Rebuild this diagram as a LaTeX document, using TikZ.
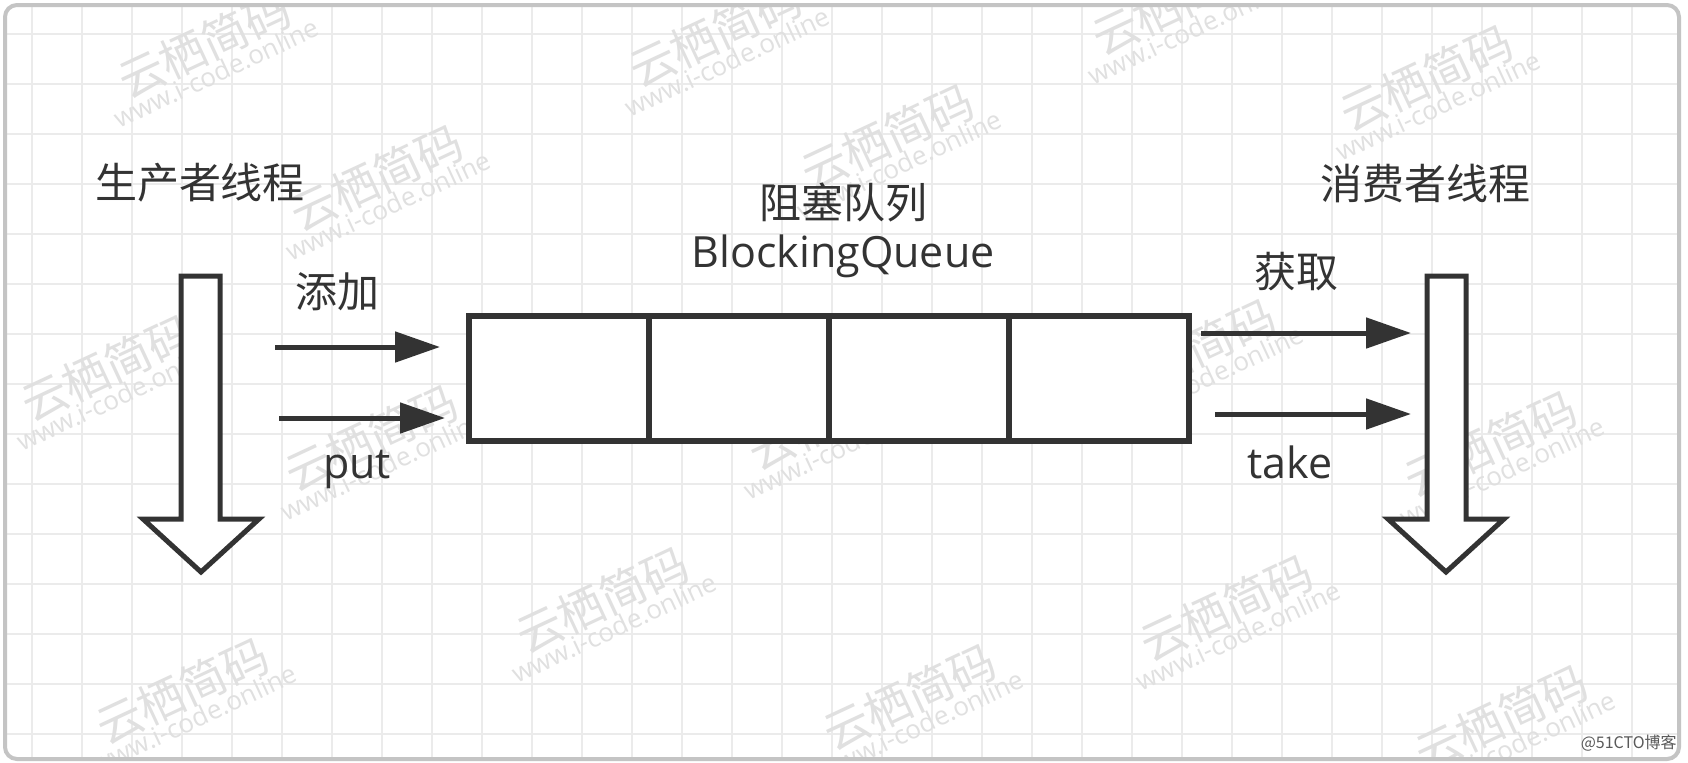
\documentclass[tikz,border=0pt]{standalone}
\usepackage{fontspec}
\setmainfont{Open Sans}
\newfontfamily\cjk{Noto Sans CJK SC}
\usetikzlibrary{arrows.meta}
\definecolor{ink}{HTML}{333333}
\definecolor{gridc}{HTML}{EBEBEB}
\definecolor{wmc}{HTML}{E0E0E0}
\definecolor{framec}{HTML}{C4C4C4}
\begin{document}
\begin{tikzpicture}[x=0.5pt,y=-0.5pt,
  cell/.style={draw=ink,line width=3pt,fill=white,minimum width=90pt,minimum height=62.5pt,inner sep=0pt},
  lbl/.style={text=ink,font=\cjk\fontsize{21}{25}\selectfont,inner sep=0pt},
  lat/.style={text=ink,font=\fontsize{21.5}{25}\selectfont,inner sep=0pt},
  push/.style={draw=ink,line width=2.5pt,-{Triangle[length=22.5pt,width=15pt]}},
  hollow/.style={draw=ink,line width=2.5pt,fill=white},
  wmcn/.style={text=wmc,rotate=25,inner sep=0pt,font=\cjk\fontsize{23}{26}\selectfont},
  wmen/.style={text=wmc,rotate=25,inner sep=0pt,font=\fontsize{13}{15}\selectfont},
  srcmark/.style={text=black!65,inner sep=0pt,font=\cjk\fontsize{8}{10}\selectfont}
]
\useasboundingbox (0,0) rectangle (1688,762);
\fill[white] (0,0) rectangle (1688,762);
\begin{scope}
  \clip[rounded corners=6pt] (5,5) rectangle (1679,759);
  \foreach \i in {0,...,33} \draw[gridc,line width=1pt] ({31.7+50*\i},0) -- ({31.7+50*\i},762);
  \foreach \j in {0,...,14} \draw[gridc,line width=1pt] (0,{34+50*\j}) -- (1688,{34+50*\j});
  \foreach \a/\b [count=\k] in {210/59,721/48,1184/16,1432/92,382/192,893/151,113/382,377/452,840/431,1195/366,1496/458,608/614,1232/622,188/705,915/711,1507/732} {
    \node[wmcn] (wm\k a) at ({\a-6},{\b-14}) {云栖简码};
    \node[wmen] (wm\k b) at ({\a+6},{\b+14}) {www.i-code.online};
  }
\end{scope}
\draw[framec,line width=2pt,rounded corners=6pt] (5,5) rectangle (1679,759);

% queue
\node[cell] (c1) at (559,378.5) {};
\node[cell] (c2) at (739,378.5) {};
\node[cell] (c3) at (919,378.5) {};
\node[cell] (c4) at (1099,378.5) {};

% hollow thread arrows
\draw[hollow] (181,276) -- (220,276) -- (220,519) -- (259,519) -- (201,572) -- (143,519) -- (181,519) -- cycle;
\draw[hollow] (1427,276) -- (1466,276) -- (1466,519) -- (1504,519) -- (1446,572) -- (1388,519) -- (1427,519) -- cycle;

% labels
\node[lbl] (prod) at (200,183) {生产者线程};
\node[lbl] (cons) at (1425,183) {消费者线程};
\node[lbl] (add) at (337,292) {添加};
\node[lbl] (get) at (1296,272) {获取};
\node[lbl] (qcn) at (843,202) {阻塞队列};
\node[lat,anchor=base] (qen) at (843,267) {BlockingQueue};
\node[lat,anchor=base] (put) at (357,478) {put};
\node[lat,anchor=base] (take) at (1290,478) {take};
\node[srcmark,anchor=base east] (src) at (1677,748) {@51CTO博客};

% small arrows
\coordinate (a1s) at (275,347); \coordinate (a1e) at (440,347);
\coordinate (a2s) at (279,418); \coordinate (a2e) at (445,418);
\coordinate (a3s) at (1201,333); \coordinate (a3e) at (1411,333);
\coordinate (a4s) at (1215,414); \coordinate (a4e) at (1411,414);
\draw[push] (a1s) -- (a1e);
\draw[push] (a2s) -- (a2e);
\draw[push] (a3s) -- (a3e);
\draw[push] (a4s) -- (a4e);
\end{tikzpicture}
\end{document}
